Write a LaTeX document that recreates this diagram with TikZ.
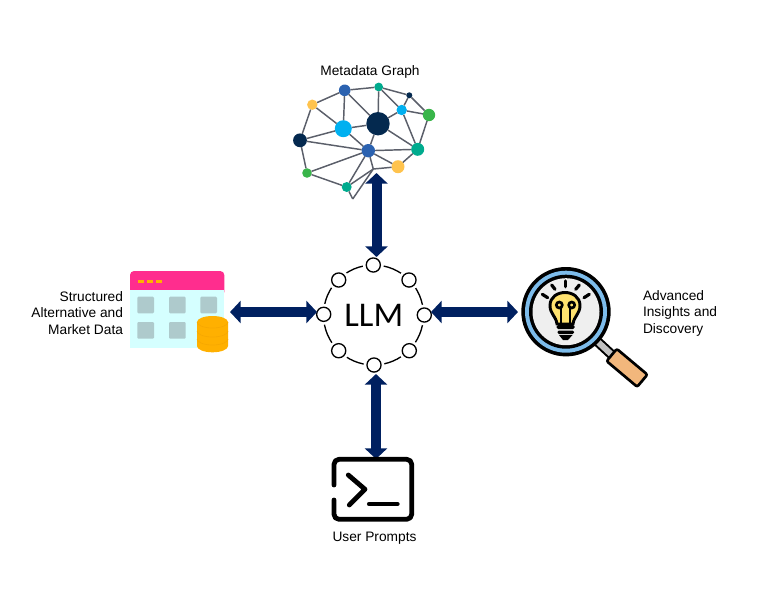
\documentclass[tikz,border=0pt]{standalone}
\usepackage{fontspec}
\setmainfont{Liberation Sans}
\newfontfamily\llmfont{Carlito}
\usepackage{tikz}
\usetikzlibrary{arrows.meta}
\definecolor{arrownavy}{HTML}{002060}
\definecolor{edgegray}{HTML}{5B5F6A}
\definecolor{brainblue}{HTML}{2B62B0}
\definecolor{brainteal}{HTML}{00AB8E}
\definecolor{brainnavy}{HTML}{04294F}
\definecolor{braincyan}{HTML}{00B0F0}
\definecolor{braingreen}{HTML}{39B54A}
\definecolor{brainyellow}{HTML}{FFC34D}
\definecolor{tablepink}{HTML}{FF2D8E}
\definecolor{tablebody}{HTML}{D5FFFF}
\definecolor{tablecell}{HTML}{AECACC}
\definecolor{coinorange}{HTML}{FFB000}
\definecolor{coinline}{HTML}{F7A800}
\definecolor{lensblue}{HTML}{7DBCEB}
\definecolor{lensglass}{HTML}{EFEFEF}
\definecolor{bulbyellow}{HTML}{FFE26F}
\definecolor{handleorange}{HTML}{F2B77C}
\tikzset{
  dot/.style 2 args={circle,fill=#1,minimum size=#2*1.5pt},
  link/.style={draw=edgegray,line width=1.1pt},
  port/.style={circle,draw=black,fill=white,line width=1pt,minimum size=10.6pt},
  flow/.style={draw=arrownavy,line width=7.5pt,
    {Triangle[width=16.5pt,length=8pt]}-{Triangle[width=16.5pt,length=8pt]},shorten <=0pt,shorten >=0pt},
  caption/.style={font=\fontsize{10.3}{12.4}\selectfont},
  cell/.style={fill=tablecell,rounded corners=0.8pt},
  coinedge/.style={draw=coinline,line width=0.5pt},
  ray/.style={draw=black,line width=2.4pt,line cap=round},
  prompt/.style={draw=black,line width=3.6pt,line cap=round,line join=round}
}
\begin{document}
\begin{tikzpicture}[x=0.75pt,y=-0.75pt]
\tikzstyle{every node}+=[inner sep=0pt,outer sep=0pt]
\useasboundingbox (0,0) rectangle (772,601);
\node [caption] (graphlabel) at (370,72) {Metadata Graph};
\node [dot={brainblue}{5.8}] (a) at (344.7,90.3) {};
\node [dot={brainteal}{4.4}] (b) at (378.7,87) {};
\node [dot={brainnavy}{3}] (c) at (409.3,95.3) {};
\node [dot={braincyan}{5.2}] (d) at (401.7,110) {};
\node [dot={braingreen}{6.2}] (e) at (429,115) {};
\node [dot={brainyellow}{5.2}] (f) at (312.3,104.7) {};
\node [dot={braincyan}{8.5}] (g) at (343.3,128.7) {};
\node [dot={brainnavy}{11.7}] (h) at (378,123.7) {};
\node [dot={brainnavy}{6.9}] (i) at (300,140.3) {};
\node [dot={brainblue}{6.7}] (j) at (368.3,150.7) {};
\node [dot={brainteal}{6.5}] (k) at (417.7,149.3) {};
\node [dot={brainyellow}{6.5}] (l) at (398,166.7) {};
\node [dot={braingreen}{4.8}] (m) at (307,173) {};
\node [dot={brainteal}{5}] (n) at (346.7,187) {};
\coordinate (p) at (373.3,169);
\coordinate (q) at (352.7,199);
\draw [link] (a) -- (b);
\draw [link] (a) -- (f);
\draw [link] (a) -- (g);
\draw [link] (a) -- (h);
\draw [link] (b) -- (c);
\draw [link] (b) -- (h);
\draw [link] (b) -- (d);
\draw [link] (c) -- (d);
\draw [link] (c) -- (e);
\draw [link] (d) -- (e);
\draw [link] (d) -- (h);
\draw [link] (d) -- (k);
\draw [link] (e) -- (k);
\draw [link] (f) -- (g);
\draw [link] (f) -- (i);
\draw [link] (g) -- (h);
\draw [link] (g) -- (i);
\draw [link] (g) -- (j);
\draw [link] (h) -- (j);
\draw [link] (h) -- (k);
\draw [link] (i) -- (j);
\draw [link] (i) -- (m);
\draw [link] (j) -- (k);
\draw [link] (j) -- (l);
\draw [link] (j) -- (m);
\draw [link] (j) -- (n);
\draw [link] (j) -- (p);
\draw [link] (k) -- (l);
\draw [link] (l) -- (p);
\draw [link] (p) -- (n);
\draw [link] (p) -- (q);
\draw [link] (n) -- (q);
\draw [link] (m) -- (n);
\draw [black,line width=1pt] (373.5,315) circle (50);
\foreach \x/\y in {373.3/265,409/280,424.3/315,409.3/350.7,374/365,338.7/350.7,323.7/314.3,338.7/280}
  \fill [white] (\x,\y) circle (10.5);
\node [port] (rn) at (373.3,265) {};
\node [port] (rne) at (409,280) {};
\node [port] (re) at (424.3,315) {};
\node [port] (rse) at (409.3,350.7) {};
\node [port] (rs) at (374,365) {};
\node [port] (rsw) at (338.7,350.7) {};
\node [port] (rw) at (323.7,314.3) {};
\node [port] (rnw) at (338.7,280) {};
\node [font=\llmfont\fontsize{26}{30}\selectfont] (llm) at (373.8,315.5) {LLM};
\coordinate (topa) at (376.5,173);
\coordinate (topb) at (376.5,257);
\coordinate (bota) at (376,374);
\coordinate (botb) at (376,459);
\coordinate (lefta) at (230,312);
\coordinate (leftb) at (317,312);
\coordinate (righta) at (431,312);
\coordinate (rightb) at (518,312);
\draw [flow] (topa) -- (topb);
\draw [flow] (bota) -- (botb);
\draw [flow] (lefta) -- (leftb);
\draw [flow] (righta) -- (rightb);
\fill [tablepink,rounded corners=3pt] (130,296) -- (130,271) -- (224.3,271) -- (224.3,296) -- cycle;
\fill [tablebody] (130,290) rectangle (224.3,347.7);
\fill [coinorange] (138.3,280) rectangle (144,282.6);
\fill [coinorange] (147.3,280) rectangle (152.7,282.6);
\fill [coinorange] (156,280) rectangle (162,282.6);
\fill [cell] (137.3,296.7) rectangle (154,313.3);
\fill [cell] (169,296.7) rectangle (185.7,313.3);
\fill [cell] (200.3,296.7) rectangle (217,313.3);
\fill [cell] (137.3,322) rectangle (154,338.7);
\fill [cell] (169,322) rectangle (185.7,338.7);
\fill [coinorange] (197,322) -- (197,346) arc [start angle=180,end angle=0,x radius=15.5,y radius=6.3] -- (228,322) arc [start angle=0,end angle=-180,x radius=15.5,y radius=6] -- cycle;
\draw [coinedge] (197,322) arc [start angle=180,end angle=0,x radius=15.5,y radius=6];
\draw [coinedge] (197,331) arc [start angle=180,end angle=0,x radius=15.5,y radius=6];
\draw [coinedge] (197,339) arc [start angle=180,end angle=0,x radius=15.5,y radius=6];
\node [caption,align=right,anchor=east] (datalabel) at (123,313) {Structured\\Alternative and\\Market Data};
\draw [black,line width=7.5pt] (598,342) -- (612,355);
\draw [lensglass!60!gray,line width=4.5pt] (598,342) -- (612,355);
\draw [black,line width=2pt,fill=handleorange,rounded corners=1.5pt] (606.6,361.1) -- (616.8,348.9) -- (647.4,374.6) -- (637.2,386.8) -- cycle;
\fill [black] (566,311.7) circle (44.7);
\fill [lensblue] (566,311.7) circle (41);
\fill [black] (566,311.7) circle (37);
\fill [lensglass] (566,311.7) circle (33.5);
\draw [ray] (542.3,294.3) -- (547.7,297.7);
\draw [ray] (551.7,285) -- (555,289.3);
\draw [ray] (565.7,281) -- (565.7,286.7);
\draw [ray] (579.3,285) -- (575.7,289.3);
\draw [ray] (589.3,294.3) -- (584,297.7);
\draw [black,line width=2.2pt,fill=bulbyellow] (557,324) .. controls (556,316) and (550,314) .. (550,305.5) .. controls (550,297) and (557.5,292.5) .. (565,292.5) .. controls (572.5,292.5) and (580,297) .. (580,305.5) .. controls (580,314) and (574,316) .. (573,324) -- cycle;
\draw [black,line width=2pt] (559.3,305) circle (3) (571.7,305) circle (3);
\draw [black,line width=2pt] (561,308) -- (561,323) (570,308) -- (570,323);
\fill [black,rounded corners=1pt] (556.7,325) rectangle (574.5,329);
\fill [black,rounded corners=1pt] (557.5,330.5) rectangle (574,334);
\fill [black] (559,335) -- (572.5,335) -- (568,340) -- (563,340) -- cycle;
\node [caption,align=left,anchor=west] (insightlabel) at (643,313) {Advanced\\Insights and\\Discovery};
\draw [prompt,rounded corners=3.75pt] (334,485) -- (334,459.3) -- (411.7,459.3) -- (411.7,519.3) -- (334,519.3) -- (334,500);
\draw [prompt] (348.3,475) -- (365,489.3) -- (349.3,505);
\draw [prompt] (369.3,504) -- (397.3,504);
\node [caption] (promptlabel) at (374.5,538) {User Prompts};
\end{tikzpicture}
\end{document}
